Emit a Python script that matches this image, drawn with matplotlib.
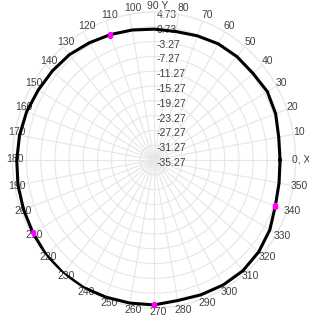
import numpy as np
import matplotlib
matplotlib.use("Agg")
import matplotlib.pyplot as plt
from matplotlib import transforms

# ---- data ----
angles_deg = [0, 10, 20, 30, 40, 50, 60, 70, 80, 90, 100, 110, 120, 130, 140, 150, 160, 170,
              180, 190, 200, 210, 220, 230, 240, 250, 260, 270, 280, 290, 300, 310, 320, 330, 340, 350]
gain_db = [0.33, 0.5, 1.3, 1.7, 1.2, 1.2, 1.0, 0.45, 0.0, 0.1, 0.4, 0.8, 1.3, 1.9, 2.2, 2.5, 3.0, 3.3,
           3.5, 3.75, 3.95, 4.2, 4.55, 4.65, 4.55, 4.2, 4.0, 3.9, 3.3, 3.5, 3.75, 3.8, 3.35, 2.5, 1.2, 0.6]
marker_angles = [110, 210, 270, 340]
r_ticks = [4.73, 0.73, -3.27, -7.27, -11.27, -15.27, -19.27, -23.27, -27.27, -31.27, -35.27]
r_labels = ["4.73", "0.73", "-3.27", "-7.27", "-11.27", "-15.27", "-19.27", "-23.27", "-27.27", "-31.27", "-35.27"]
theta_ticks = list(range(0, 360, 10))
theta_labels = ["0, X" if a == 0 else ("90 Y" if a == 90 else str(a)) for a in theta_ticks]

plt.rcParams['font.family'] = ['Liberation Sans', 'DejaVu Sans']

W, H, DPI = 309, 323, 100
fig = plt.figure(figsize=(W / DPI, H / DPI), dpi=DPI)
fig.patch.set_facecolor('white')

cx, cy = 154, 160          # centre in pixels (from top)
rh, rv = 141.6, 148        # horizontal / vertical radius in pixels
ax = fig.add_axes([(cx - rh) / W, (H - cy - rv) / H, 2 * rh / W, 2 * rv / H], projection='polar')
ax.set_aspect('auto')

rmin, rmax = min(r_ticks), max(r_ticks)
ax.set_ylim(rmin, rmax)
ax.set_rticks(r_ticks)
ax.set_yticklabels([])
ax.set_thetagrids(theta_ticks, [""] * len(theta_ticks))
grid_col = '#e6e6e6'
ax.grid(True, color=grid_col, linewidth=0.8)
ax.spines['polar'].set_color(grid_col)
ax.spines['polar'].set_linewidth(0.8)
ax.tick_params(axis='both', length=0)

txt_col = '#404040'
# radial labels
for rv_, lab in zip(r_ticks, r_labels):
    tr = ax.transData + transforms.ScaledTranslation(3 / DPI, -3 / DPI, fig.dpi_scale_trans)
    ax.text(np.deg2rad(90), rv_, lab, transform=tr, ha='left', va='center',
            fontsize=7.5, color=txt_col, zorder=2)

# angle labels
a_lab, b_lab = 143, 153
for ang, lab in zip(theta_ticks, theta_labels):
    t = np.deg2rad(ang)
    dx = a_lab * np.cos(t) + 4
    dy = b_lab * np.sin(t) + 1
    tr = transforms.offset_copy(ax.transAxes, fig=fig, x=dx, y=dy, units='dots')
    ax.text(0.5, 0.5, lab, transform=tr, ha='center', va='center', fontsize=7.5,
            color=txt_col, clip_on=False)

# curve
th = np.deg2rad(angles_deg + [angles_deg[0]])
rr = gain_db + [gain_db[0]]
ax.plot(th, rr, color='black', linewidth=2.2, zorder=3, solid_joinstyle='round')

mk_r = [gain_db[angles_deg.index(a)] for a in marker_angles]
ax.plot(np.deg2rad(marker_angles), mk_r, linestyle='none', marker='s', markersize=3.5,
        color='#ff00ff', zorder=4)

fig.savefig('out.png', dpi=DPI)
